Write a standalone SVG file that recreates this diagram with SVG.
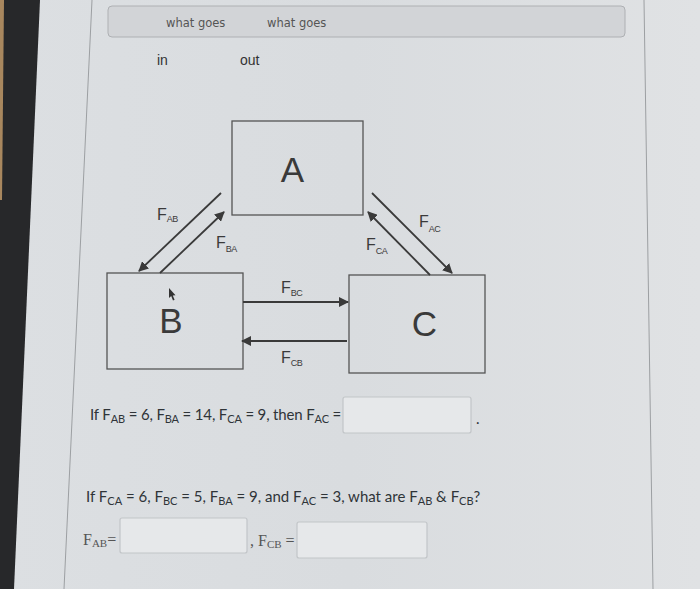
<svg xmlns="http://www.w3.org/2000/svg" width="700" height="589" viewBox="0 0 700 589">
  <defs>
    <linearGradient id="bg" x1="0" y1="0" x2="1" y2="0">
      <stop offset="0" stop-color="#dcdfe2"/>
      <stop offset="0.5" stop-color="#d9dcdf"/>
      <stop offset="1" stop-color="#e0e2e4"/>
    </linearGradient>
    <marker id="ah" viewBox="0 0 10 10" refX="9" refY="5" markerWidth="10" markerHeight="10" markerUnits="userSpaceOnUse" orient="auto">
      <path d="M0,0 L10,5 L0,10 z" fill="#3a3a3a"/>
    </marker>
  </defs>
  <style>
    .box{fill:none;stroke:#555;stroke-width:1.3}
    .big{font-family:"Liberation Sans",Arial,sans-serif;font-size:35px;fill:#3a3a3a;text-anchor:middle}
    .lbl{font-family:"Liberation Sans",Arial,sans-serif;font-size:16px;fill:#3a3a3a}
    .sub{font-size:9px;letter-spacing:-0.5px}
    .conn line{stroke:#3a3a3a;stroke-width:1.8;marker-end:url(#ah)}
    .q{font-family:Lato,"Open Sans",sans-serif;font-size:15px;fill:#2f3438}
    .qs{font-size:11px}
    .ser{font-family:"Liberation Serif","Times New Roman",serif;font-size:16px;fill:#555}
    .in{fill:#e6e8ea;stroke:#c2c5c8;stroke-width:1.2}
    .hdr{font-family:"DejaVu Sans",sans-serif;font-size:11.5px;fill:#555}
    .io{font-family:"Liberation Sans",Arial,sans-serif;font-size:14px;fill:#333}
  </style>
  <rect x="0" y="0" width="700" height="589" fill="url(#bg)"/>
  <polygon points="0,0 40,0 14,589 0,589" fill="#27282a"/>
  <polygon points="0,0 4,0 2,200 0,200" fill="#a8875e"/>
  <line x1="92" y1="0" x2="64" y2="589" stroke="#9c9fa2" stroke-width="1"/>
  <line x1="644" y1="0" x2="653" y2="589" stroke="#9c9fa2" stroke-width="1"/>

  <g id="header">
    <rect x="108" y="6" width="517" height="31" rx="4" fill="#d2d4d7" stroke="#aeb0b3" stroke-width="1"/>
    <text class="hdr" x="166" y="27">what goes</text>
    <text class="hdr" x="267" y="27">what goes</text>
    <text class="io" x="157" y="65">in</text>
    <text class="io" x="240" y="65">out</text>
  </g>

  <g id="A">
    <rect class="box" x="232" y="121" width="131" height="94"/>
    <text class="big" x="292.5" y="182">A</text>
  </g>
  <g id="B">
    <rect class="box" x="107" y="273" width="136" height="96"/>
    <text class="big" x="171" y="333">B</text>
  </g>
  <g id="C">
    <rect class="box" x="349" y="275" width="136" height="98"/>
    <text class="big" x="424.5" y="336">C</text>
  </g>

  <g id="connectors" class="conn">
    <line x1="221" y1="193" x2="139" y2="271"/>
    <line x1="160" y1="273" x2="224" y2="212"/>
    <line x1="372" y1="193" x2="452" y2="273"/>
    <line x1="430" y1="275" x2="368" y2="212"/>
    <line x1="243" y1="302" x2="348" y2="302"/>
    <line x1="347" y1="341" x2="242" y2="341"/>
  </g>

  <g id="labels">
    <text class="lbl" x="157" y="220">F<tspan class="sub" dy="2">AB</tspan></text>
    <text class="lbl" x="216" y="248">F<tspan class="sub" dy="4">BA</tspan></text>
    <text class="lbl" x="419" y="227">F<tspan class="sub" dy="5">AC</tspan></text>
    <text class="lbl" x="366" y="250">F<tspan class="sub" dy="4">CA</tspan></text>
    <text class="lbl" x="281" y="293">F<tspan class="sub" dy="3">BC</tspan></text>
    <text class="lbl" x="281" y="363">F<tspan class="sub" dy="3">CB</tspan></text>
  </g>

  <g id="cursor">
    <polygon points="169,288 169,298 171.2,296 173,300.5 174.6,299.8 172.8,295.4 175.5,295.2" fill="#333"/>
  </g>

  <g id="question1">
    <text class="q" x="90" y="420" letter-spacing="-0.15">If F<tspan class="qs" dy="3">AB</tspan><tspan dy="-3"> = 6, F</tspan><tspan class="qs" dy="3">BA</tspan><tspan dy="-3"> = 14, F</tspan><tspan class="qs" dy="3">CA</tspan><tspan dy="-3"> = 9, then F</tspan><tspan class="qs" dy="3">AC</tspan><tspan dy="-3"> =</tspan></text>
    <rect class="in" x="343" y="397" width="128" height="36" rx="2"/>
    <text class="q" x="476" y="424">.</text>
  </g>

  <g id="question2">
    <text class="q" x="86" y="502">If F<tspan class="qs" dy="3">CA</tspan><tspan dy="-3"> = 6, F</tspan><tspan class="qs" dy="3">BC</tspan><tspan dy="-3"> = 5, F</tspan><tspan class="qs" dy="3">BA</tspan><tspan dy="-3"> = 9, and F</tspan><tspan class="qs" dy="3">AC</tspan><tspan dy="-3"> = 3, what are F</tspan><tspan class="qs" dy="3">AB</tspan><tspan dy="-3"> &amp; F</tspan><tspan class="qs" dy="3">CB</tspan><tspan dy="-3">?</tspan></text>
  </g>

  <g id="answers">
    <text class="ser" x="83" y="545">F<tspan class="qs" dy="2">AB</tspan><tspan dy="-2">=</tspan></text>
    <rect class="in" x="120" y="518" width="127" height="35" rx="2"/>
    <text class="ser" x="250" y="546">, F<tspan class="qs" dy="2">CB</tspan><tspan dy="-2"> =</tspan></text>
    <rect class="in" x="297" y="522" width="130" height="36" rx="2"/>
  </g>
</svg>
